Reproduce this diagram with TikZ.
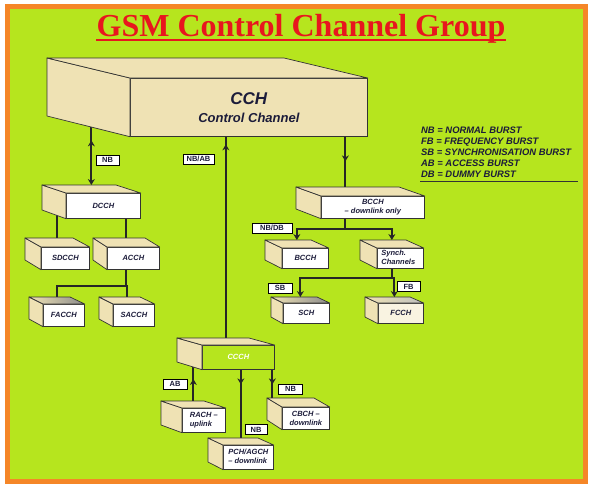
\documentclass[tikz,border=0pt]{standalone}
\usepackage{fontspec}
\setsansfont{Liberation Sans}
\newfontfamily\titlefont{Liberation Serif}
\usetikzlibrary{arrows.meta,calc,decorations.markings}
\definecolor{lime}{RGB}{182,229,30}
\definecolor{frameorange}{RGB}{245,134,40}
\definecolor{beige}{RGB}{239,226,180}
\definecolor{ink}{RGB}{28,28,58}
\definecolor{titlered}{RGB}{232,22,30}
\pgfdeclarelayer{frame}
\pgfdeclarelayer{links}
\pgfsetlayers{frame,links,main}
% [front fill]{name}{front corner}{width}{height}{depth x}{depth y}{text}
\newcommand\chbox[8][white]{%
	\node[front,fill=#1,minimum width=#4,minimum height=#5,anchor=north west] (#2) at #3 {#8};
	\draw[sideface] (#2.north west) -- ++(-#6,-#7) -- ++(0,#5) -- (#2.south west) -- cycle;
	\draw[topface] (#2.north west) -- ++(-#6,-#7) -- ++(#4,0) -- (#2.north east) -- cycle;
	\coordinate (#2-in) at ($(#2.north)+(-#6/2,-#7)$);
}
\begin{document}
\begin{tikzpicture}[x=1pt,y=-1pt,
		front/.style={draw=black!80,line width=0.7pt,inner sep=1pt,align=center,text=ink,
			font=\sffamily\bfseries\itshape\fontsize{7.5}{8.5}\selectfont},
		sideface/.style={draw=black!80,fill=beige,line width=0.7pt,line join=round},
		topface/.style={draw=black!80,fill=beige,line width=0.7pt,line join=round},
		tag/.style={draw=black,fill=white,line width=0.5pt,inner xsep=2pt,inner ysep=0pt,
			minimum height=10,text=ink,font=\sffamily\bfseries\fontsize{7.5}{8}\selectfont},
		link/.style={draw=black!85,line width=2.2pt},
		tipat/.style={postaction={decorate},decoration={markings,
			mark=at position #1 with {\arrow{Stealth[length=6pt,width=7pt,inset=2pt]}}}},
		tipback/.style={postaction={decorate},decoration={markings,
			mark=at position #1 with {\arrowreversed{Stealth[length=6pt,width=7pt,inset=2pt]}}}},
		endtip/.style={-{Stealth[length=6pt,width=7pt,inset=2pt]}}]
	\useasboundingbox (0,0) rectangle (593,499);
	\begin{pgfonlayer}{frame}
		\fill[white] (0,0) rectangle (593,499);
		\fill[frameorange] (5,4) rectangle (588,484);
		\fill[lime] (10,9) rectangle (583,479);
	\end{pgfonlayer}

	\node[inner sep=0pt,anchor=base,text=titlered,font=\titlefont\bfseries\fontsize{32}{36}\selectfont] (title) at (301,36) {GSM Control Channel Group};
	\draw[titlered,line width=2pt] ($(title.base west)+(0,4)$) -- ($(title.base east)+(0,4)$);

	\chbox[beige]{cch}{(130,78)}{237}{58}{83}{20}{{\fontsize{17}{20}\selectfont CCH}\\[7pt]{\fontsize{13}{15}\selectfont Control Channel}}
	\chbox{dcch}{(66,193)}{74}{25}{24}{8}{DCCH}
	\chbox{sdcch}{(41,247)}{48}{22}{16}{9}{SDCCH}
	\chbox{acch}{(107,247)}{52}{22}{14}{9}{ACCH}
	\begin{scope}[topface/.append style={left color=beige,right color=black!45}]
		\chbox{facch}{(43,304)}{41}{22}{14}{7}{FACCH}
		\chbox{sch}{(283,303)}{46}{20}{12}{6}{SCH}
	\end{scope}
	\chbox{sacch}{(113,304)}{41}{22}{14}{7}{SACCH}
	\chbox{bcch}{(321,196)}{103}{22}{25}{9}{BCCH\\-- downlink only}
	\chbox{bcchd}{(282,248)}{46}{20}{17}{8}{BCCH}
	\chbox{synch}{(377,248)}{46}{20}{17}{8}{\hspace*{-4pt}\begin{tabular}{@{}l@{}}Synch.\\Channels\end{tabular}}
	\begin{scope}[topface/.append style={left color=beige,right color=black!25}]
		\chbox[beige!40]{fcch}{(378,303)}{45}{20}{13}{6}{FCCH}
	\end{scope}
	\chbox[lime]{ccch}{(202,345)}{72}{24}{25}{7}{\textcolor{white}{CCCH}}
	\chbox{rach}{(182,408)}{43}{24}{21}{7}{\begin{tabular}{@{}l@{}}RACH --\\uplink\end{tabular}}
	\chbox{pch}{(223,445)}{50}{24}{15}{7}{\begin{tabular}{@{}l@{}}PCH/AGCH\\-- downlink\end{tabular}}
	\chbox{cbch}{(282,407)}{47}{22}{15}{9}{CBCH --\\downlink}

	\coordinate (bcch-x) at ($(bcch-in)+(-15,0)$);
	\coordinate (cbch-x) at ($(cbch-in)+(-26,0)$);
	\coordinate (acch-fork) at ($(acch.south -| acch-in)+(0,16)$);
	\coordinate (bcch-fork) at ($(bcch.south -| bcch-x)+(0,10)$);
	\coordinate (synch-fork) at ($(synch.south -| synch-in)+(0,9)$);

	\begin{pgfonlayer}{links}
		\draw[link,endtip,tipback=33pt] (cch.center -| dcch-in) -- (dcch-in);
		\draw[link,tipback=37pt] (cch.center -| ccch-in) -- (ccch-in);
		\draw[link,tipat=54pt] (cch.center -| bcch-x) -- (bcch-x);
		\draw[link] (dcch.center -| sdcch-in) -- (sdcch-in);
		\draw[link] (dcch.center -| acch-in) -- (acch-in);
		\draw[link] (acch-in) -- (acch-fork);
		\draw[link] (facch-in) |- (acch-fork) -| (sacch-in);
		\draw[link] (bcch-x) -- (bcch-fork);
		\draw[link,endtip] (bcch-fork) -| (bcchd-in);
		\draw[link,endtip] (bcch-fork) -| (synch-in);
		\draw[link] (synch-in) -- (synch-fork);
		\draw[link,endtip] (synch-fork) -| (sch-in);
		\draw[link,endtip] (synch-fork) -| (fcch-in);
		\draw[link,tipat=22pt] (rach-in) -- (ccch.center -| rach-in);
		\draw[link,tipat=27pt] (ccch.center -| pch-in) -- (pch-in);
		\draw[link,tipat=27pt] (ccch.center -| cbch-x) -- (cbch-x);
	\end{pgfonlayer}

	\node[tag,minimum width=23] (nb-dcch) at (107.5,160) {NB};
	\node[tag,minimum width=31] (nbab) at (198.5,159) {NB/AB};
	\node[tag,minimum width=40] (nbdb) at (272,228) {NB/DB};
	\node[tag,minimum width=24] (sb) at (280,288) {SB};
	\node[tag,minimum width=23] (fb) at (408.5,286.5) {FB};
	\node[tag,minimum width=24] (ab) at (175,384) {AB};
	\node[tag,minimum width=24] (nb-cbch) at (290.5,389) {NB};
	\node[tag,minimum width=22] (nb-pch) at (256,429.5) {NB};

	\node[anchor=north west,inner sep=0pt,align=left,text=ink,font=\sffamily\bfseries\itshape\fontsize{9.4}{11}\selectfont] (key) at (421,127)
		{NB = NORMAL BURST\\FB = FREQUENCY BURST\\SB = SYNCHRONISATION BURST\\AB = ACCESS BURST\\DB = DUMMY BURST};
	\draw[black!80,line width=0.7pt] ($(key.south west)+(-1,3)$) -- ++(158,0);
\end{tikzpicture}
\end{document}
